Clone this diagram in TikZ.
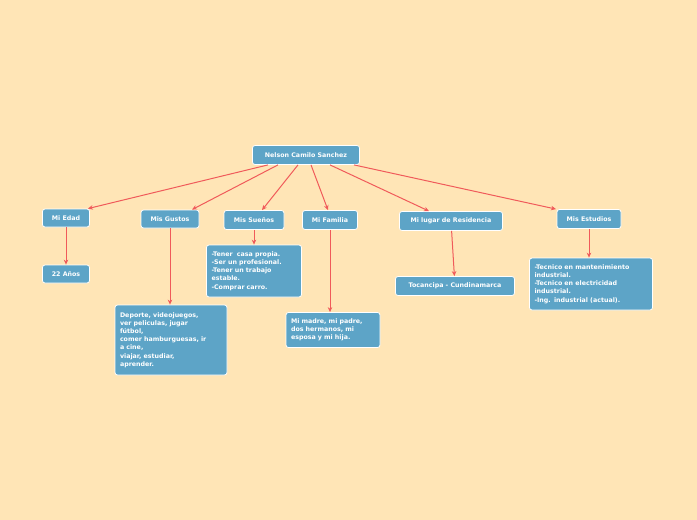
\documentclass[tikz,border=0pt]{standalone}
\usepackage{fontspec}
\setmainfont{DejaVu Sans}
\usetikzlibrary{arrows.meta}
\definecolor{boxc}{HTML}{5DA4C7}
\definecolor{linec}{HTML}{F05A5A}
\definecolor{bgc}{HTML}{FFE5B6}
\begin{document}
\begin{tikzpicture}[x=1pt,y=-1pt,
  box/.style={draw=white,line width=0.8pt,fill=boxc,rounded corners=2.5pt,text=white,font=\bfseries\fontsize{6.3}{8.2}\selectfont,inner sep=0pt,align=center},
  tbox/.style={box,align=left},
  arr/.style={draw=linec,line width=1pt,-{Stealth[length=5pt,width=4.5pt]}}]
\fill[bgc] (0,0) rectangle (697,520);
\useasboundingbox (0,0) rectangle (697,520);
\node[box,minimum width=107,minimum height=19] (root) at (306,155) {Nelson Camilo Sanchez};
\node[box,minimum width=47,minimum height=18] (edad) at (66,218) {Mi Edad};
\node[box,minimum width=47,minimum height=18] (anos) at (66,274) {22 Años};
\node[box,minimum width=58,minimum height=18] (gustos) at (170,219) {Mis Gustos};
\node[box,minimum width=60,minimum height=19] (suenos) at (254,220) {Mis Sueños};
\node[box,minimum width=55,minimum height=19] (familia) at (330,220) {Mi Familia};
\node[box,minimum width=103,minimum height=19] (resid) at (451,221) {Mi lugar de Residencia};
\node[box,minimum width=119,minimum height=19] (toca) at (455,286) {Tocancipa - Cundinamarca};
\node[box,minimum width=64,minimum height=19] (estud) at (589,219) {Mis Estudios};
\node[tbox,minimum width=112,minimum height=70,text width=102] (gtext) at (171,340) {Deporte, videojuegos,\\ver peliculas, jugar\\fútbol,\\comer hamburguesas, ir\\a cine,\\viajar, estudiar,\\aprender.};
\node[tbox,minimum width=95,minimum height=52,text width=85] (stext) at (254,271) {-Tener\ \ casa propia.\\-Ser un profesional.\\-Tener un trabajo\\estable.\\-Comprar carro.};
\node[tbox,minimum width=94,minimum height=35,text width=84] (ftext) at (333,330) {Mi madre, mi padre,\\dos hermanos, mi\\esposa y mi hija.};
\node[tbox,minimum width=123,minimum height=52,text width=113] (etext) at (591,284) {-Tecnico en mantenimiento\\industrial.\\-Tecnico en electricidad\\industrial.\\-Ing. industrial (actual).};
\draw[arr] ([xshift=-38]root.south) -- ([xshift=-2]edad.north east);
\draw[arr] ([xshift=-28]root.south) -- ([xshift=22]gustos.north);
\draw[arr] ([xshift=-8]root.south) -- ([xshift=8]suenos.north);
\draw[arr] ([xshift=5]root.south) -- ([xshift=-2]familia.north);
\draw[arr] ([xshift=24]root.south) -- ([xshift=-22]resid.north);
\draw[arr] ([xshift=48]root.south) -- ([xshift=-33]estud.north);
\draw[arr] (edad) -- (anos);
\draw[arr] (gustos) -- (gustos|-gtext.north);
\draw[arr] (suenos) -- (stext);
\draw[arr] (familia) -- (familia|-ftext.north);
\draw[arr] (resid) -- (toca);
\draw[arr] (estud) -- (estud|-etext.north);
\end{tikzpicture}
\end{document}
